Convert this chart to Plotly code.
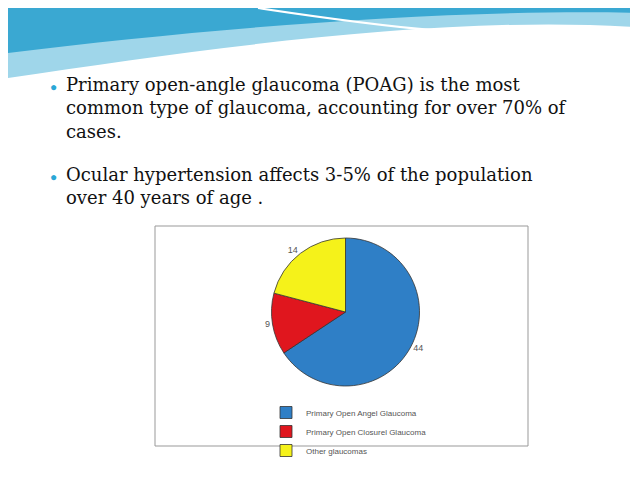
import plotly.graph_objects as go

labels = ["Primary Open Angel Glaucoma", "Primary Open Closurel Glaucoma", "Other glaucomas"]
values = [44, 9, 14]
colors = ["#2f7fc6", "#e0161e", "#f5f21a"]
bullets = [
    "Primary open-angle glaucoma (POAG) is the most<br>common type of glaucoma, accounting for over 70% of<br>cases.",
    "Ocular hypertension affects 3-5% of the population<br>over 40 years of age .",
]

W, H = 638, 478
def px(x): return x / W
def py(y): return 1 - y / H

fig = go.Figure()
fig.add_trace(go.Pie(
    labels=labels, values=values, sort=False, direction="clockwise", rotation=0,
    marker=dict(colors=colors, line=dict(color="#333", width=0.8)),
    textinfo="value", textposition="outside",
    textfont=dict(size=9, color="#555", family="Liberation Sans"),
    domain=dict(x=[px(195), px(480)], y=[py(378), py(230)]),
    hoverinfo="label+value",
))

shapes = [
    dict(type="path", xref="paper", yref="paper",
         path=f"M 0 1 L 1 1 L 1 {py(20)} C {px(450)} {py(5)} {px(200)} {py(40)} 0 {py(70)} Z",
         fillcolor="#9fd6ea", line=dict(width=0), layer="below"),
    dict(type="path", xref="paper", yref="paper",
         path=f"M 0 1 L 1 1 L 1 {py(5)} C {px(450)} {py(0)} {px(200)} {py(20)} 0 {py(45)} Z",
         fillcolor="#3aa8d2", line=dict(width=0), layer="below"),
    dict(type="path", xref="paper", yref="paper",
         path=f"M {px(250)} 1 C {px(350)} {py(15)} {px(480)} {py(35)} 1 {py(25)}",
         line=dict(color="white", width=2), layer="below"),
    dict(type="rect", xref="paper", yref="paper", x0=px(147), x1=px(520), y0=py(438), y1=py(218),
         line=dict(color="#999", width=1), fillcolor="white", layer="below"),
]

annotations = []
for t, y in zip(bullets, [66, 156]):
    annotations.append(dict(text="●", x=px(40), y=py(y + 2), xref="paper", yref="paper",
                            showarrow=False, xanchor="left", yanchor="top",
                            font=dict(size=12, color="#2aa7d6")))
    annotations.append(dict(text=t, x=px(56), y=py(y - 2), xref="paper", yref="paper",
                            showarrow=False, xanchor="left", yanchor="top", align="left",
                            font=dict(size=18, color="#111", family="DejaVu Serif, serif")))

fig.update_layout(
    width=W, height=H, margin=dict(l=0, r=0, t=0, b=0),
    paper_bgcolor="white", plot_bgcolor="white",
    shapes=shapes, annotations=annotations,
    legend=dict(x=px(258), y=py(390), xanchor="left", yanchor="top",
                font=dict(size=8, color="#555", family="Liberation Sans"),
                tracegroupgap=0, itemwidth=30, bgcolor="rgba(0,0,0,0)"),
)
fig.write_html("out.html")
